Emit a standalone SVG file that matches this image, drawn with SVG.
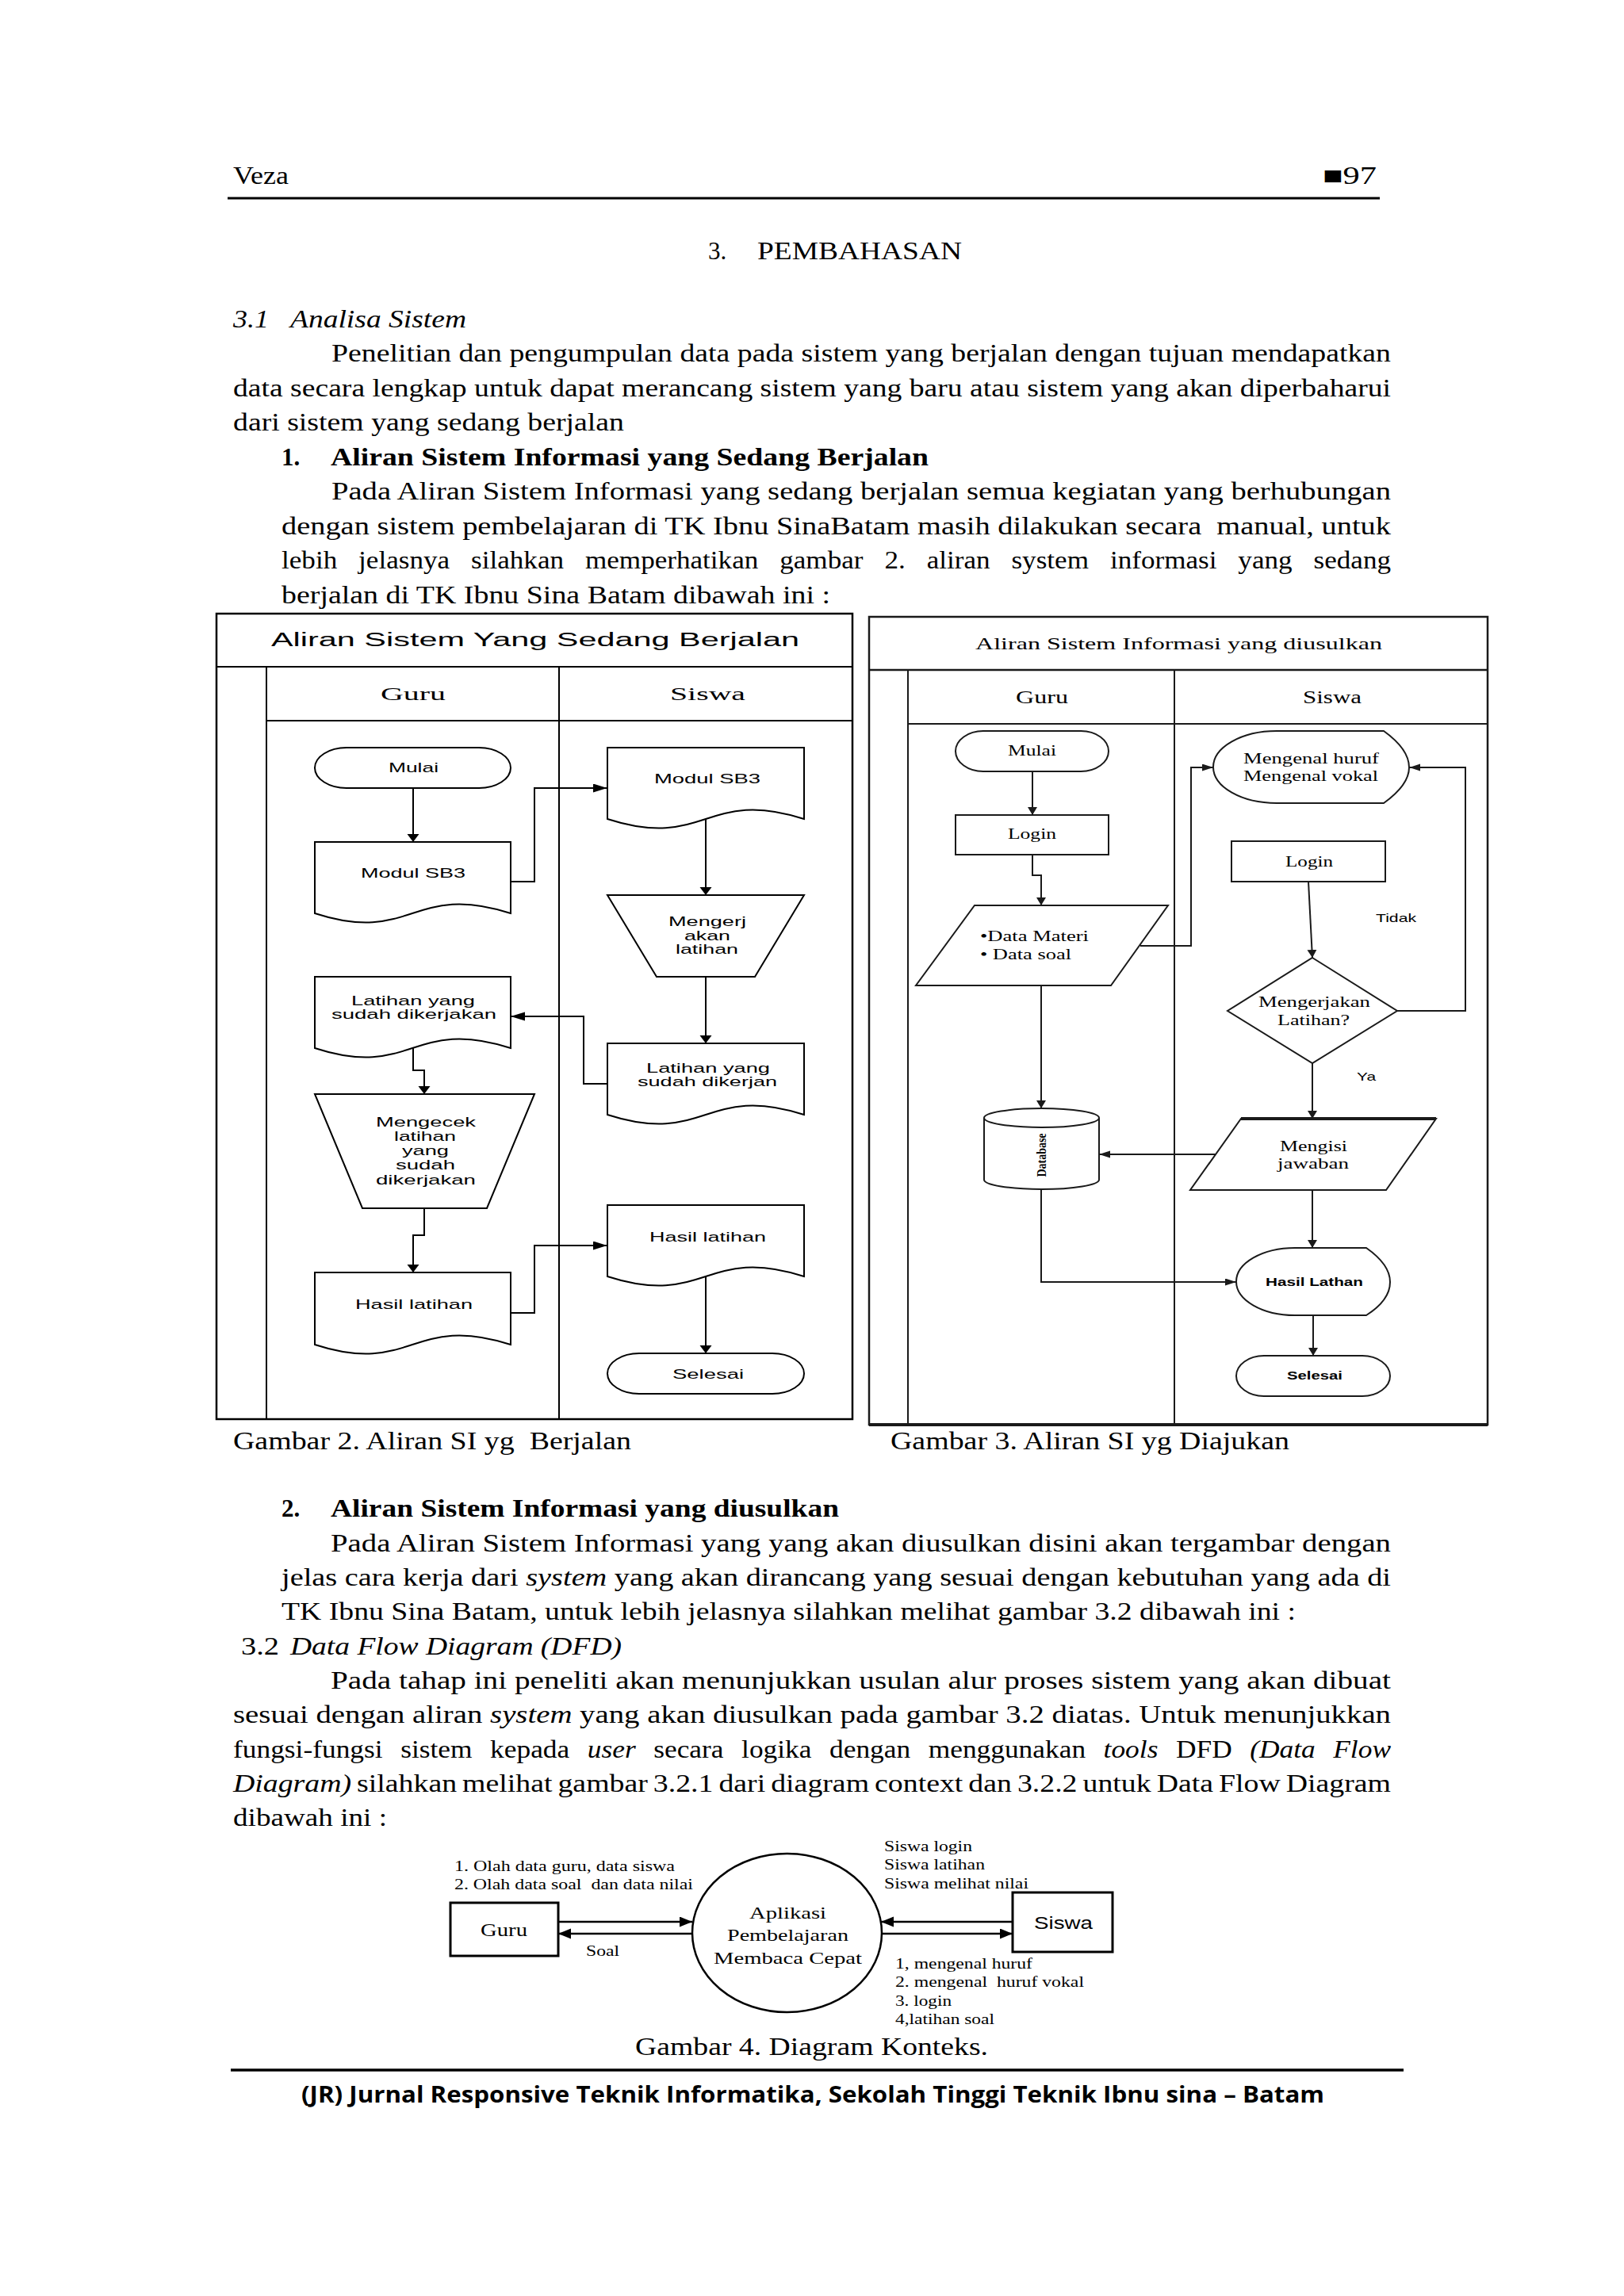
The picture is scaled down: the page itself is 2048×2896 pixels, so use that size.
<svg xmlns="http://www.w3.org/2000/svg" width="2048" height="2896" viewBox="0 0 2048 2896">
<style>
.body{font-family:"Liberation Serif","Times New Roman",serif;font-size:31px;fill:#000}
.it{font-style:italic}
.bd{font-weight:bold}
.sans{font-family:"Liberation Sans",Arial,sans-serif;fill:#000}
.serif{font-family:"Liberation Serif","Times New Roman",serif;fill:#000}
.ln{fill:none;stroke:#000;stroke-width:2}
.shape{fill:#fff;stroke:#000;stroke-width:2}
.rln{fill:none;stroke:#1a1a1a;stroke-width:2}
.rshape{fill:#fff;stroke:#1a1a1a;stroke-width:2}
.cln{fill:none;stroke:#000;stroke-width:2.5}
</style>
<defs>
<marker id="aV" markerUnits="userSpaceOnUse" markerWidth="12" markerHeight="16" refX="10" refY="7.5" orient="auto" viewBox="0 0 12 16"><path d="M0,0 L10,7.5 L0,15 Z" fill="#000"/></marker>
<marker id="aH" markerUnits="userSpaceOnUse" markerWidth="20" markerHeight="12" refX="18" refY="5.5" orient="auto" viewBox="0 0 20 12"><path d="M0,0 L18,5.5 L0,11 Z" fill="#000"/></marker>
<marker id="aV2" markerUnits="userSpaceOnUse" markerWidth="12" markerHeight="14" refX="10" refY="6" orient="auto" viewBox="0 0 12 14"><path d="M0,0 L10,6 L0,12 Z" fill="#1a1a1a"/></marker>
<marker id="aH2" markerUnits="userSpaceOnUse" markerWidth="16" markerHeight="10" refX="14" refY="4.5" orient="auto" viewBox="0 0 16 10"><path d="M0,0 L14,4.5 L0,9 Z" fill="#1a1a1a"/></marker>
<marker id="aC" markerUnits="userSpaceOnUse" markerWidth="18" markerHeight="14" refX="16" refY="6.5" orient="auto" viewBox="0 0 18 14"><path d="M0,0 L16,6.5 L0,13 Z" fill="#000"/></marker>
</defs>
<rect width="2048" height="2896" fill="#fff"/>

<!-- Page header -->
<g id="page-header">
<text class="body" x="294" y="232" font-size="29" textLength="70" lengthAdjust="spacingAndGlyphs">Veza</text>
<text class="body" x="1668" y="232" font-size="36" textLength="68" lengthAdjust="spacingAndGlyphs">■97</text>
<line x1="287" y1="250" x2="1740" y2="250" stroke="#000" stroke-width="3"/>
</g>

<!-- Upper text -->
<g id="text-upper">
<text class="body" x="893" y="327" font-size="35">3.</text>
<text class="body" x="955" y="327" font-size="35" textLength="258" lengthAdjust="spacingAndGlyphs">PEMBAHASAN</text>
<text class="body it" x="294" y="413" textLength="45" lengthAdjust="spacingAndGlyphs">3.1</text>
<text class="body it" x="366" y="413" textLength="222" lengthAdjust="spacingAndGlyphs">Analisa Sistem</text>
<text class="body" x="418" y="456" textLength="1336" lengthAdjust="spacingAndGlyphs">Penelitian dan pengumpulan data pada sistem yang berjalan dengan tujuan mendapatkan</text>
<text class="body" x="294" y="500" textLength="1460" lengthAdjust="spacingAndGlyphs">data secara lengkap untuk dapat merancang sistem yang baru atau sistem yang akan diperbaharui</text>
<text class="body" x="294" y="543" textLength="493" lengthAdjust="spacingAndGlyphs">dari sistem yang sedang berjalan</text>
<text class="body bd" x="355" y="587">1.</text>
<text class="body bd" x="417" y="587" textLength="754" lengthAdjust="spacingAndGlyphs">Aliran Sistem Informasi yang Sedang Berjalan</text>
<text class="body" x="418" y="630" textLength="1336" lengthAdjust="spacingAndGlyphs">Pada Aliran Sistem Informasi yang sedang berjalan semua kegiatan yang berhubungan</text>
<text class="body" x="355" y="674" textLength="1399" lengthAdjust="spacingAndGlyphs" xml:space="preserve">dengan sistem pembelajaran di TK Ibnu SinaBatam masih dilakukan secara  manual, untuk</text>
<text class="body" x="355" y="717" word-spacing="16" textLength="1399" lengthAdjust="spacingAndGlyphs">lebih jelasnya silahkan memperhatikan gambar 2. aliran system informasi yang sedang</text>
<text class="body" x="355" y="761" textLength="692" lengthAdjust="spacingAndGlyphs">berjalan di TK Ibnu Sina Batam dibawah ini :</text>
</g>

<!-- ================= Gambar 2 ================= -->
<g id="fig2-frame">
<rect x="273" y="774" width="802" height="1016" fill="none" stroke="#000" stroke-width="2.5"/>
<line x1="273" y1="841" x2="1075" y2="841" stroke="#000" stroke-width="2"/>
<line x1="336" y1="841" x2="336" y2="1790" stroke="#000" stroke-width="2"/>
<line x1="705" y1="841" x2="705" y2="1790" stroke="#000" stroke-width="2"/>
<line x1="336" y1="909" x2="1075" y2="909" stroke="#000" stroke-width="2"/>
<text class="sans" x="342" y="815" font-size="23" textLength="666" lengthAdjust="spacingAndGlyphs">Aliran Sistem Yang Sedang Berjalan</text>
<text class="serif" x="480" y="883" font-size="24" textLength="82" lengthAdjust="spacingAndGlyphs">Guru</text>
<text class="serif" x="845" y="883" font-size="24" textLength="95" lengthAdjust="spacingAndGlyphs">Siswa</text>
</g>

<g id="fig2-connectors">
<path class="ln" d="M521,994 V1062" marker-end="url(#aV)"/>
<path class="ln" d="M644,1112 H674 V994 H766" marker-end="url(#aH)"/>
<path class="ln" d="M890,1033 V1129" marker-end="url(#aV)"/>
<path class="ln" d="M890,1232 V1316" marker-end="url(#aV)"/>
<path class="ln" d="M766,1367 H736 V1282 H644" marker-end="url(#aH)"/>
<path class="ln" d="M521,1322 V1350 H535 V1380" marker-end="url(#aV)"/>
<path class="ln" d="M535,1524 V1558 H521 V1605" marker-end="url(#aV)"/>
<path class="ln" d="M644,1656 H674 V1571 H766" marker-end="url(#aH)"/>
<path class="ln" d="M890,1610 V1707" marker-end="url(#aV)"/>
</g>

<g id="f2-mulai">
<rect class="shape" x="397" y="943" width="247" height="51" rx="40" ry="25.5"/>
<text class="sans" x="490" y="974" font-size="17" textLength="63" lengthAdjust="spacingAndGlyphs">Mulai</text>
</g>
<g id="f2-modul-guru">
<path class="shape" d="M397,1062 H644 V1152 C520,1112 520,1192 397,1152 Z"/>
<text class="sans" x="455" y="1107" font-size="17" textLength="132" lengthAdjust="spacingAndGlyphs">Modul SB3</text>
</g>
<g id="f2-modul-siswa">
<path class="shape" d="M766,943 H1014 V1033 C890,993 890,1073 766,1033 Z"/>
<text class="sans" x="825" y="988" font-size="17" textLength="134" lengthAdjust="spacingAndGlyphs">Modul SB3</text>
</g>
<g id="f2-mengerjakan">
<path class="shape" d="M766,1129 H1014 L952,1232 H828 Z"/>
<text class="sans" x="843" y="1168" font-size="17" textLength="98" lengthAdjust="spacingAndGlyphs">Mengerj</text>
<text class="sans" x="863" y="1186" font-size="17" textLength="58" lengthAdjust="spacingAndGlyphs">akan</text>
<text class="sans" x="852" y="1203" font-size="17" textLength="79" lengthAdjust="spacingAndGlyphs">latihan</text>
</g>
<g id="f2-latihan-siswa">
<path class="shape" d="M766,1316 H1014 V1406 C890,1366 890,1446 766,1406 Z"/>
<text class="sans" x="815" y="1353" font-size="17" textLength="156" lengthAdjust="spacingAndGlyphs">Latihan yang</text>
<text class="sans" x="804" y="1370" font-size="17" textLength="176" lengthAdjust="spacingAndGlyphs">sudah dikerjan</text>
</g>
<g id="f2-latihan-guru">
<path class="shape" d="M397,1232 H644 V1322 C520,1282 520,1362 397,1322 Z"/>
<text class="sans" x="443" y="1268" font-size="17" textLength="156" lengthAdjust="spacingAndGlyphs">Latihan yang</text>
<text class="sans" x="418" y="1285" font-size="17" textLength="208" lengthAdjust="spacingAndGlyphs">sudah dikerjakan</text>
</g>
<g id="f2-mengecek">
<path class="shape" d="M397,1380 H674 L614,1524 H457 Z"/>
<text class="sans" x="474" y="1421" font-size="17" textLength="126" lengthAdjust="spacingAndGlyphs">Mengecek</text>
<text class="sans" x="497" y="1439" font-size="17" textLength="78" lengthAdjust="spacingAndGlyphs">latihan</text>
<text class="sans" x="507" y="1457" font-size="17" textLength="59" lengthAdjust="spacingAndGlyphs">yang</text>
<text class="sans" x="499" y="1475" font-size="17" textLength="75" lengthAdjust="spacingAndGlyphs">sudah</text>
<text class="sans" x="474" y="1494" font-size="17" textLength="126" lengthAdjust="spacingAndGlyphs">dikerjakan</text>
</g>
<g id="f2-hasil-guru">
<path class="shape" d="M397,1605 H644 V1696 C520,1656 520,1736 397,1696 Z"/>
<text class="sans" x="448" y="1651" font-size="17" textLength="148" lengthAdjust="spacingAndGlyphs">Hasil latihan</text>
</g>
<g id="f2-hasil-siswa">
<path class="shape" d="M766,1520 H1014 V1610 C890,1570 890,1650 766,1610 Z"/>
<text class="sans" x="819" y="1566" font-size="17" textLength="147" lengthAdjust="spacingAndGlyphs">Hasil latihan</text>
</g>
<g id="f2-selesai">
<rect class="shape" x="766" y="1707" width="248" height="51" rx="40" ry="25.5"/>
<text class="sans" x="848" y="1739" font-size="17" textLength="90" lengthAdjust="spacingAndGlyphs">Selesai</text>
</g>
<text class="body" x="294" y="1828" textLength="502" lengthAdjust="spacingAndGlyphs" xml:space="preserve">Gambar 2. Aliran SI yg  Berjalan</text>

<!-- ================= Gambar 3 ================= -->
<g id="fig3-frame">
<rect x="1096" y="778" width="780" height="1019" fill="none" stroke="#1a1a1a" stroke-width="2.5"/>
<line x1="1096" y1="1797" x2="1876" y2="1797" stroke="#1a1a1a" stroke-width="4"/>
<line x1="1096" y1="845" x2="1876" y2="845" stroke="#1a1a1a" stroke-width="2.5"/>
<line x1="1145" y1="845" x2="1145" y2="1797" stroke="#1a1a1a" stroke-width="2"/>
<line x1="1481" y1="845" x2="1481" y2="1797" stroke="#1a1a1a" stroke-width="2"/>
<line x1="1145" y1="913" x2="1876" y2="913" stroke="#1a1a1a" stroke-width="2"/>
<text class="serif" x="1230" y="819" font-size="22" textLength="513" lengthAdjust="spacingAndGlyphs">Aliran Sistem Informasi yang diusulkan</text>
<text class="serif" x="1281" y="887" font-size="24" textLength="66" lengthAdjust="spacingAndGlyphs">Guru</text>
<text class="serif" x="1643" y="887" font-size="24" textLength="74" lengthAdjust="spacingAndGlyphs">Siswa</text>
</g>

<g id="fig3-connectors">
<path class="rln" d="M1302,973 V1028" marker-end="url(#aV2)"/>
<path class="rln" d="M1302,1078 V1104 H1313 V1142" marker-end="url(#aV2)"/>
<path class="rln" d="M1438,1193 H1502 V968 H1530" marker-end="url(#aH2)"/>
<path class="rln" d="M1313,1243 V1398" marker-end="url(#aV2)"/>
<path class="rln" d="M1650,1112 L1655,1208" marker-end="url(#aV2)"/>
<path class="rln" d="M1762,1275 H1848 V968 H1777" marker-end="url(#aH2)"/>
<path class="rln" d="M1655,1341 V1411" marker-end="url(#aV2)"/>
<path class="rln" d="M1533,1456 H1386" marker-end="url(#aH2)"/>
<path class="rln" d="M1655,1501 V1574" marker-end="url(#aV2)"/>
<path class="rln" d="M1313,1500 V1617 H1559" marker-end="url(#aH2)"/>
<path class="rln" d="M1656,1659 V1710" marker-end="url(#aV2)"/>
<text class="sans" x="1735" y="1163" font-size="15" textLength="51" lengthAdjust="spacingAndGlyphs">Tidak</text>
<text class="sans" x="1711" y="1363" font-size="15" textLength="24" lengthAdjust="spacingAndGlyphs">Ya</text>
</g>

<g id="f3-mulai">
<rect class="rshape" x="1205" y="922" width="193" height="51" rx="35" ry="25.5"/>
<text class="serif" x="1271" y="953" font-size="18" textLength="61" lengthAdjust="spacingAndGlyphs">Mulai</text>
</g>
<g id="f3-login-guru">
<rect class="rshape" x="1205" y="1028" width="193" height="50"/>
<text class="serif" x="1271" y="1058" font-size="18" textLength="61" lengthAdjust="spacingAndGlyphs">Login</text>
</g>
<g id="f3-data">
<path class="rshape" d="M1229,1142 H1473 L1401,1243 H1155 Z"/>
<text class="serif" x="1236" y="1187" font-size="18" textLength="137" lengthAdjust="spacingAndGlyphs">•Data Materi</text>
<text class="serif" x="1236" y="1210" font-size="18" textLength="115" lengthAdjust="spacingAndGlyphs">• Data soal</text>
</g>
<g id="f3-database">
<path class="rshape" d="M1241,1410 V1488 A72.5,12 0 0 0 1386,1488 V1410"/>
<ellipse class="rshape" cx="1313.5" cy="1410" rx="72.5" ry="12"/>
<text class="serif" x="0" y="0" font-size="16" font-weight="bold" textLength="55" lengthAdjust="spacingAndGlyphs" text-anchor="middle" transform="translate(1319,1457) rotate(-90)">Database</text>
</g>
<g id="f3-mengenal">
<path class="rshape" d="M1610,922 H1745 Q1777,945 1777,968 Q1777,990 1745,1013 H1610 A80,45.5 0 0 1 1610,922 Z"/>
<text class="serif" x="1568" y="963" font-size="18" textLength="171" lengthAdjust="spacingAndGlyphs">Mengenal huruf</text>
<text class="serif" x="1568" y="985" font-size="18" textLength="170" lengthAdjust="spacingAndGlyphs">Mengenal vokal</text>
</g>
<g id="f3-login-siswa">
<rect class="rshape" x="1553" y="1061" width="194" height="51"/>
<text class="serif" x="1621" y="1093" font-size="18" textLength="60" lengthAdjust="spacingAndGlyphs">Login</text>
</g>
<g id="f3-decision">
<path class="rshape" d="M1655,1208 L1762,1275 L1655,1341 L1548,1275 Z"/>
<text class="serif" x="1587" y="1270" font-size="18" textLength="141" lengthAdjust="spacingAndGlyphs">Mengerjakan</text>
<text class="serif" x="1611" y="1293" font-size="18" textLength="91" lengthAdjust="spacingAndGlyphs">Latihan?</text>
</g>
<g id="f3-mengisi">
<path class="rshape" d="M1565,1411 H1811 L1748,1501 H1501 Z"/>
<line x1="1565" y1="1411" x2="1811" y2="1411" stroke="#1a1a1a" stroke-width="4"/>
<text class="serif" x="1614" y="1452" font-size="18" textLength="85" lengthAdjust="spacingAndGlyphs">Mengisi</text>
<text class="serif" x="1611" y="1474" font-size="18" textLength="90" lengthAdjust="spacingAndGlyphs">jawaban</text>
</g>
<g id="f3-hasil">
<path class="rshape" d="M1633,1574 H1723 Q1753,1595 1753,1617 Q1753,1640 1723,1659 H1633 A74,42.5 0 0 1 1633,1574 Z"/>
<text class="sans" x="1596" y="1622" font-size="15" font-weight="bold" textLength="123" lengthAdjust="spacingAndGlyphs">Hasil Lathan</text>
</g>
<g id="f3-selesai">
<rect class="rshape" x="1559" y="1710" width="194" height="51" rx="35" ry="25.5"/>
<text class="sans" x="1623" y="1740" font-size="15" font-weight="bold" textLength="70" lengthAdjust="spacingAndGlyphs">Selesai</text>
</g>
<text class="body" x="1123" y="1828" textLength="503" lengthAdjust="spacingAndGlyphs">Gambar 3. Aliran SI yg Diajukan</text>

<!-- Lower text -->
<g id="text-lower">
<text class="body bd" x="355" y="1913">2.</text>
<text class="body bd" x="417" y="1913" textLength="641" lengthAdjust="spacingAndGlyphs">Aliran Sistem Informasi yang diusulkan</text>
<text class="body" x="417" y="1957" textLength="1337" lengthAdjust="spacingAndGlyphs">Pada Aliran Sistem Informasi yang yang akan diusulkan disini akan tergambar dengan</text>
<text class="body" x="355" y="2000" textLength="1399" lengthAdjust="spacingAndGlyphs">jelas cara kerja dari <tspan class="it">system</tspan> yang akan dirancang yang sesuai dengan kebutuhan yang ada di</text>
<text class="body" x="355" y="2043" textLength="1279" lengthAdjust="spacingAndGlyphs">TK Ibnu Sina Batam, untuk lebih jelasnya silahkan melihat gambar 3.2 dibawah ini :</text>
<text class="body" x="304" y="2087" textLength="48" lengthAdjust="spacingAndGlyphs">3.2</text>
<text class="body it" x="366" y="2087" textLength="418" lengthAdjust="spacingAndGlyphs">Data Flow Diagram (DFD)</text>
<text class="body" x="417" y="2130" textLength="1337" lengthAdjust="spacingAndGlyphs">Pada tahap ini peneliti akan menunjukkan usulan alur proses sistem yang akan dibuat</text>
<text class="body" x="294" y="2173" textLength="1460" lengthAdjust="spacingAndGlyphs">sesuai dengan aliran <tspan class="it">system</tspan> yang akan diusulkan pada gambar 3.2 diatas. Untuk menunjukkan</text>
<text class="body" x="294" y="2217" word-spacing="12" textLength="1460" lengthAdjust="spacingAndGlyphs">fungsi-fungsi sistem kepada <tspan class="it">user</tspan> secara logika dengan menggunakan <tspan class="it">tools</tspan> DFD <tspan class="it">(Data Flow</tspan></text>
<text class="body" x="294" y="2260" word-spacing="-2" textLength="1460" lengthAdjust="spacingAndGlyphs"><tspan class="it">Diagram)</tspan> silahkan melihat gambar 3.2.1 dari diagram context dan 3.2.2 untuk Data Flow Diagram</text>
<text class="body" x="294" y="2303" textLength="194" lengthAdjust="spacingAndGlyphs">dibawah ini :</text>
</g>

<!-- ================= Gambar 4 (context diagram) ================= -->
<g id="ctx-connectors">
<path class="cln" d="M704,2424 H873" marker-end="url(#aC)"/>
<path class="cln" d="M874,2439 H704" marker-end="url(#aC)"/>
<path class="cln" d="M1277,2424 H1111" marker-end="url(#aC)"/>
<path class="cln" d="M1112,2439 H1277" marker-end="url(#aC)"/>
<text class="serif" x="573" y="2360" font-size="19" textLength="278" lengthAdjust="spacingAndGlyphs">1. Olah data guru, data siswa</text>
<text class="serif" x="573" y="2383" font-size="19" textLength="301" lengthAdjust="spacingAndGlyphs" xml:space="preserve">2. Olah data soal  dan data nilai</text>
<text class="serif" x="739" y="2467" font-size="19" textLength="42" lengthAdjust="spacingAndGlyphs">Soal</text>
<text class="serif" x="1115" y="2335" font-size="19" textLength="111" lengthAdjust="spacingAndGlyphs">Siswa login</text>
<text class="serif" x="1115" y="2358" font-size="19" textLength="127" lengthAdjust="spacingAndGlyphs">Siswa latihan</text>
<text class="serif" x="1115" y="2382" font-size="19" textLength="182" lengthAdjust="spacingAndGlyphs">Siswa melihat nilai</text>
<text class="serif" x="1129" y="2483" font-size="19" textLength="173" lengthAdjust="spacingAndGlyphs">1, mengenal huruf</text>
<text class="serif" x="1129" y="2506" font-size="19" textLength="238" lengthAdjust="spacingAndGlyphs" xml:space="preserve">2. mengenal  huruf vokal</text>
<text class="serif" x="1129" y="2530" font-size="19" textLength="71" lengthAdjust="spacingAndGlyphs">3. login</text>
<text class="serif" x="1129" y="2553" font-size="19" textLength="125" lengthAdjust="spacingAndGlyphs">4,latihan soal</text>
</g>
<g id="ctx-guru">
<rect x="568" y="2400" width="136" height="67" fill="#fff" stroke="#000" stroke-width="3"/>
<text class="serif" x="606" y="2442" font-size="23" textLength="59" lengthAdjust="spacingAndGlyphs">Guru</text>
</g>
<g id="ctx-process">
<ellipse cx="992.5" cy="2438" rx="119.5" ry="100" fill="#fff" stroke="#000" stroke-width="2.5"/>
<text class="serif" x="945" y="2420" font-size="22" textLength="97" lengthAdjust="spacingAndGlyphs">Aplikasi</text>
<text class="serif" x="917" y="2448" font-size="22" textLength="153" lengthAdjust="spacingAndGlyphs">Pembelajaran</text>
<text class="serif" x="900" y="2477" font-size="22" textLength="187" lengthAdjust="spacingAndGlyphs">Membaca Cepat</text>
</g>
<g id="ctx-siswa">
<rect x="1277" y="2387" width="126" height="75" fill="#fff" stroke="#000" stroke-width="3"/>
<text class="sans" x="1304" y="2433" font-size="22" textLength="74" lengthAdjust="spacingAndGlyphs">Siswa</text>
</g>
<text class="body" x="801" y="2592" font-size="33" textLength="445" lengthAdjust="spacingAndGlyphs">Gambar 4. Diagram Konteks.</text>

<!-- Footer -->
<g id="page-footer">
<line x1="291" y1="2611" x2="1770" y2="2611" stroke="#000" stroke-width="3.5"/>
<text x="380" y="2652" font-family="'Open Sans','Noto Sans','Liberation Sans',sans-serif" font-weight="bold" font-size="28" fill="#000" textLength="1290" lengthAdjust="spacingAndGlyphs">(JR) Jurnal Responsive Teknik Informatika, Sekolah Tinggi Teknik Ibnu sina – Batam</text>
</g>
</svg>
